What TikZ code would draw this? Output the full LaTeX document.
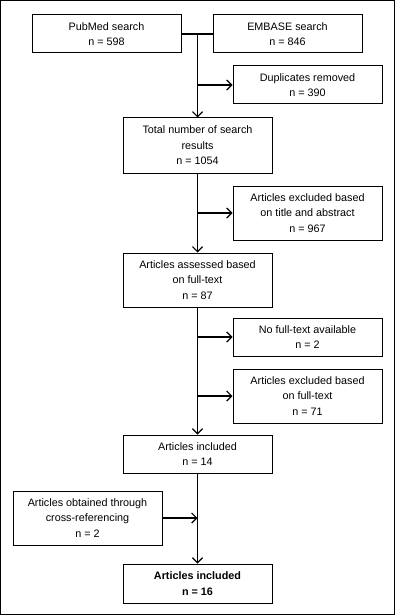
\documentclass[tikz,border=0pt]{standalone}
\usepackage{fontspec}
\setmainfont{Liberation Sans}
\usetikzlibrary{arrows.meta}
\begin{document}
\begin{tikzpicture}[x=1pt,y=-1pt,
  box/.style={draw,line width=1pt,rectangle,minimum width=149pt,inner sep=2pt,align=center,font=\fontsize{10.8}{15.5}\selectfont},
  conn/.style={line width=1.2pt},
  arr/.style={conn,-{Straight Barb[length=5pt,width=10pt,line width=1.2pt]}}]
\useasboundingbox (0,0) rectangle (395,615);
\draw[line width=1pt] (0.5,0.5) rectangle (394.5,614.5);
\node[box,minimum height=38pt] (pub) at (106.5,34) {PubMed search\\n = 598};
\node[box,minimum height=38pt] (emb) at (287.5,34) {EMBASE search\\n = 846};
\node[box,minimum height=38pt] (dup) at (307.5,85) {Duplicates removed\\n = 390};
\node[box,minimum height=55pt] (tot) at (197.5,145.5) {Total number of search\\results\\n = 1054};
\node[box,minimum height=54pt] (exta) at (307.5,213) {Articles excluded based\\on title and abstract\\n = 967};
\node[box,minimum height=54pt] (ass) at (197.5,280) {Articles assessed based\\on full-text\\n = 87};
\node[box,minimum height=38pt] (noft) at (307.5,337) {No full-text available\\n = 2};
\node[box,minimum height=54pt] (exft) at (307.5,396) {Articles excluded based\\on full-text\\n = 71};
\node[box,minimum height=38pt] (inc) at (197.5,454) {Articles included\\n = 14};
\node[box,minimum height=54pt] (cross) at (87.5,518) {Articles obtained through\\cross-referencing\\n = 2};
\node[box,minimum height=39pt,font=\fontsize{10.8}{15.5}\selectfont\bfseries] (fin) at (197.5,583.5) {Articles included\\n = 16};
\coordinate (j) at (197.5,34);
\draw[conn] (pub.east) -- (emb.west);
\draw[arr] (j) -- (tot.north);
\draw[arr] (j |- dup.west) -- (dup.west);
\draw[arr] (tot.south) -- (ass.north);
\draw[arr] (tot.south |- exta.west) -- (exta.west);
\draw[arr] (ass.south) -- (inc.north);
\draw[arr] (ass.south |- noft.west) -- (noft.west);
\draw[arr] (ass.south |- exft.west) -- (exft.west);
\draw[arr] (inc.south) -- (fin.north);
\draw[arr] (cross.east) -- (cross.east -| inc.south);
\end{tikzpicture}
\end{document}
